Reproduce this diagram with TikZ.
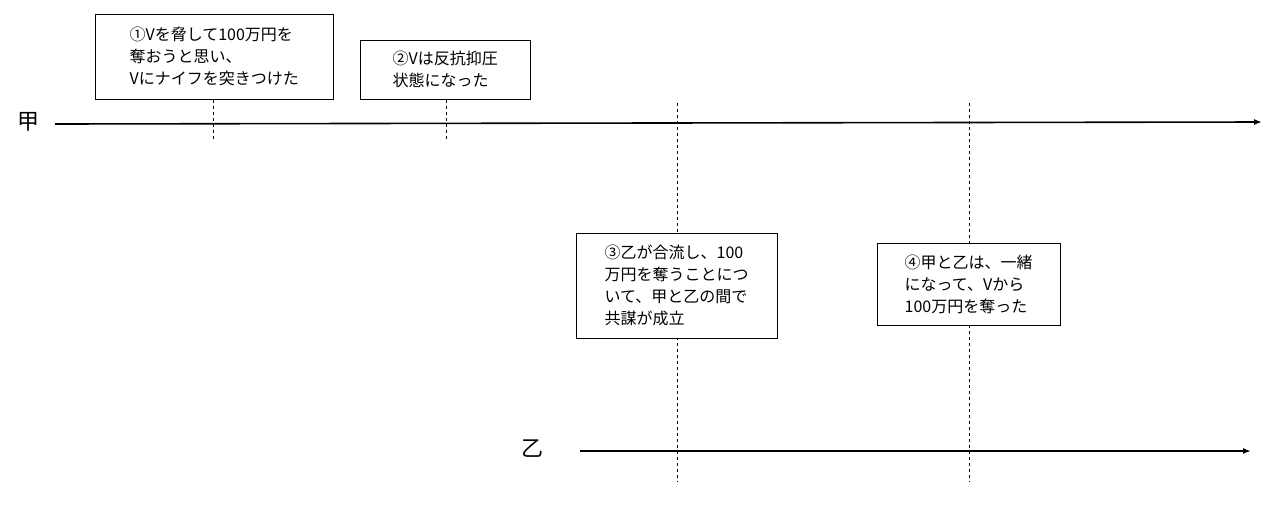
\documentclass[tikz,border=0pt]{standalone}
\usepackage{fontspec}
\setmainfont{Noto Sans CJK JP}
\usetikzlibrary{arrows.meta}
\tikzstyle{event}=[draw, fill=white, anchor=north west, align=left, inner xsep=6pt, inner ysep=4pt,
                   font=\fontsize{16}{22}\selectfont]
\tikzstyle{timeline}=[line width=1.6pt, -{Latex[length=8pt,width=6pt]}]
\tikzstyle{tick}=[dashed, line width=0.8pt]
\begin{document}
\begin{tikzpicture}[x=1pt, y=-1pt]
        \useasboundingbox (0, 0) rectangle (1265, 507);
        % time lines
        \node[font=\fontsize{22}{22}\selectfont] (Ko) at (28, 122) {甲};
        \node[font=\fontsize{22}{22}\selectfont] (Otsu) at (532, 449) {乙};
        \coordinate (KoS) at (55, 124);
        \coordinate (KoE) at (1262, 122);
        \coordinate (OtsuS) at (580, 451);
        \coordinate (OtsuE) at (1251, 451);
        \draw[timeline] (KoS) -- (KoE);
        \draw[timeline] (OtsuS) -- (OtsuE);
        % dashed marks
        \draw[tick] (213, 100) -- (213, 141);
        \draw[tick] (446, 100) -- (446, 141);
        \draw[tick] (677, 103) -- (677, 482);
        \draw[tick] (969, 103) -- (969, 482);
        % events
        \node[event, minimum width=238, minimum height=85] (E1) at (95, 14) {①Vを脅して100万円を\\奪おうと思い、\\Vにナイフを突きつけた};
        \node[event, minimum width=170, minimum height=59] (E2) at (360, 40) {②Vは反抗抑圧\\状態になった};
        \node[event, minimum width=201, minimum height=105] (E3) at (576, 233) {③乙が合流し、100\\万円を奪うことにつ\\いて、甲と乙の間で\\共謀が成立};
        \node[event, minimum width=183, minimum height=82] (E4) at (877, 243) {④甲と乙は、一緒\\になって、Vから\\100万円を奪った};
\end{tikzpicture}
\end{document}
